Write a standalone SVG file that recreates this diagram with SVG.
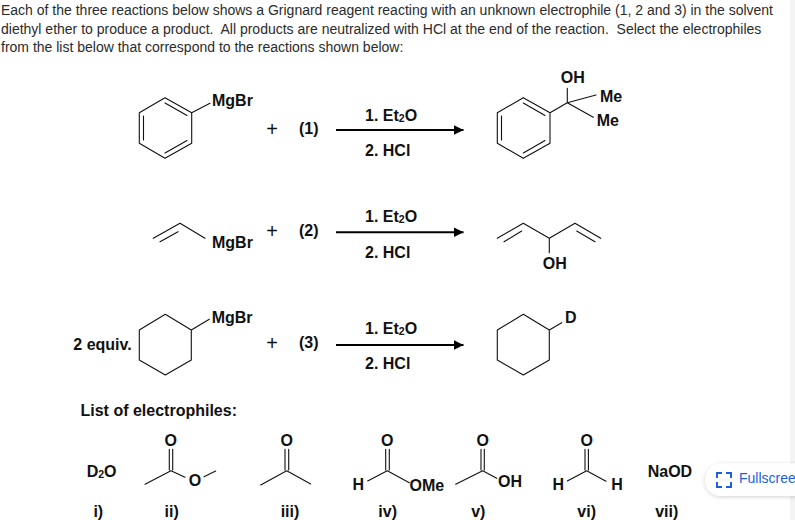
<svg xmlns="http://www.w3.org/2000/svg" width="795" height="520" viewBox="0 0 795 520">
<defs>
<marker id="ah" markerUnits="userSpaceOnUse" markerWidth="11" markerHeight="11" refX="10" refY="5.5" orient="auto"><path d="M0 0.5L10 5.5L0 10.5Z" fill="#000"/></marker>
<filter id="sh" x="-20%" y="-40%" width="140%" height="180%"><feDropShadow dx="0" dy="1" stdDeviation="2" flood-color="#000" flood-opacity="0.18"/></filter>
</defs>
<style>
text{font-family:"Liberation Sans",Arial,sans-serif;fill:#111}
.q{font-size:14px;fill:#2b2b2b;white-space:pre}
.l{font-size:16px;font-weight:bold}
.p{font-size:20px;font-weight:normal;text-anchor:middle}
.m{text-anchor:middle}
.b{fill:none;stroke:#111;stroke-width:1.1;stroke-linecap:round;stroke-linejoin:round}
.a{fill:none;stroke:#000;stroke-width:2}
</style>
<rect width="795" height="520" fill="#fff"/>
<rect x="790" y="0" width="5" height="520" fill="#f4f4f4"/>
<g id="question">
<text class="q" x="1" y="15">Each of the three reactions below shows a Grignard reagent reacting with an unknown electrophile (1, 2 and 3) in the solvent</text>
<text class="q" x="1" y="33.500">diethyl ether to produce a product.  All products are neutralized with HCl at the end of the reaction.  Select the electrophiles</text>
<text class="q" x="1" y="52">from the list below that correspond to the reactions shown below:</text>
</g>
<g id="connectors">
<path class="a" marker-end="url(#ah)" d="M336 130H463.500"/>
<path class="a" marker-end="url(#ah)" d="M336 232.300H463.500"/>
<path class="a" marker-end="url(#ah)" d="M336 345H463.500"/>
</g>
<g id="reagent1">
<path class="b" d="M165 97.700L191.700 112.700V143.300L165 158.300L139.300 143.300V112.700ZM191.700 112.700L210 103.300M143.500 116V140M165 103L187 115.500M187 140.500L165 153"/>
<text class="l" x="212" y="106">MgBr</text>
</g>
<g id="plus1"><text class="p" x="272" y="136">+</text><text class="l" x="299" y="134">(1)</text></g>
<g id="conditions1"><text class="l" x="365" y="120.500">1. Et<tspan font-size="10.500" dy="1">2</tspan><tspan dy="-1">O</tspan></text><text class="l" x="365" y="155.500">2. HCl</text></g>
<g id="product1">
<path class="b" d="M523.300 97.700L550 112.700V143.300L523.300 158.300L497.300 143.300V112.700ZM550 112.700L567.300 102.700V88.300M567.300 102.700L596 95M567.300 102.700L593.300 117.300M501.500 116V140M523.300 103L545 115.500M545 140.500L523.300 153"/>
<text class="l m" x="572.700" y="82.700">OH</text>
<text class="l" x="600" y="101.700">Me</text>
<text class="l" x="596.700" y="125.700">Me</text>
</g>
<g id="reagent2">
<path class="b" d="M153.300 238.300L180 223.300L205 238.300M160 241.700L178 231.700"/>
<text class="l" x="212" y="248.300">MgBr</text>
</g>
<g id="plus2"><text class="p" x="272" y="238">+</text><text class="l" x="299" y="236">(2)</text></g>
<g id="conditions2"><text class="l" x="365" y="221.500">1. Et<tspan font-size="10.500" dy="1">2</tspan><tspan dy="-1">O</tspan></text><text class="l" x="365" y="257.500">2. HCl</text></g>
<g id="product2">
<path class="b" d="M497.300 238.300L523.300 223.300L549.300 238.300L575 223.300L600.700 238.300M549.300 238.300V252.700M504 241.700L521.700 231M576.700 231L595 241.700"/>
<text class="l m" x="554.700" y="269.300">OH</text>
</g>
<g id="reagent3">
<path class="b" d="M165.300 314.300L191.300 330V360L165.300 375L139.300 360V330ZM191.300 330L209.300 319.300"/>
<text class="l" x="211.700" y="322.700">MgBr</text>
<text class="l" x="73.300" y="350">2 equiv.</text>
</g>
<g id="plus3"><text class="p" x="272" y="350">+</text><text class="l" x="299" y="348">(3)</text></g>
<g id="conditions3"><text class="l" x="365" y="334">1. Et<tspan font-size="10.500" dy="1">2</tspan><tspan dy="-1">O</tspan></text><text class="l" x="365" y="369.300">2. HCl</text></g>
<g id="product3">
<path class="b" d="M523.300 314.300L549.300 330V360L523.300 375L497.300 360V330ZM549.300 330L561.700 322.700"/>
<text class="l" x="565" y="323.300">D</text>
</g>
<text class="l" x="80.500" y="416">List of electrophiles:</text>
<g id="e1"><text class="l" x="86.700" y="477.300">D<tspan font-size="10.500" dy="1">2</tspan><tspan dy="-1">O</tspan></text><text class="l m" x="98.300" y="516.500">i)</text></g>
<g id="e2">
<path class="b" d="M145 484.300L171 470.700L185 477.300M169.300 449.300V470M172.700 449.300V470M204 476.700L215.700 471"/>
<text class="l m" x="170.700" y="446">O</text><text class="l m" x="195" y="486">O</text><text class="l m" x="171.700" y="516.500">ii)</text>
</g>
<g id="e3">
<path class="b" d="M260.700 485L286.700 470.700L310.700 484M285 449.300V470M288.700 449.300V470"/>
<text class="l m" x="286.700" y="446">O</text><text class="l m" x="290" y="516.500">iii)</text>
</g>
<g id="e4">
<path class="b" d="M367.700 481L387.300 470.700L409.300 482.700M385.700 449.300V470M389.300 449.300V470"/>
<text class="l m" x="387.300" y="446">O</text><text class="l m" x="358.300" y="490">H</text><text class="l" x="409.500" y="490.700">OMe</text><text class="l m" x="387.700" y="516.500">iv)</text>
</g>
<g id="e5">
<path class="b" d="M455.700 484.300L482.700 470.700L496.700 478.300M481 449.300V470M484.300 449.300V470"/>
<text class="l m" x="482.700" y="446">O</text><text class="l" x="498" y="486.700">OH</text><text class="l m" x="478.300" y="516.500">v)</text>
</g>
<g id="e6">
<path class="b" d="M567.300 481L586.700 470.700L606 481.300M585 449.300V470M588.400 449.300V470"/>
<text class="l m" x="586.700" y="446">O</text><text class="l m" x="558.300" y="489.700">H</text><text class="l m" x="617" y="489.700">H</text><text class="l m" x="586.700" y="516.500">vi)</text>
</g>
<g id="e7"><text class="l" x="647.700" y="477.300">NaOD</text><text class="l m" x="666.700" y="516.500">vii)</text></g>
<g id="fullscreen">
<rect x="705" y="463.500" width="120" height="32.500" rx="16" fill="#fff" filter="url(#sh)"/>
<path d="M722 473H717V478M726 473H731V478M722 487H717V482M726 487H731V482" fill="none" stroke="#1a5fe8" stroke-width="2"/>
<text x="739" y="483.300" style="font-size:14px;fill:#1a5fe8">Fullscree</text>
</g>
</svg>
